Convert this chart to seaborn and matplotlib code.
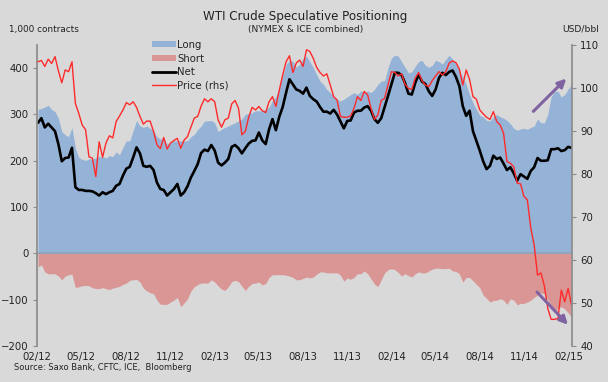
import pandas as pd
import matplotlib
matplotlib.use("Agg")
import matplotlib.pyplot as plt
import matplotlib.dates as mdates
from matplotlib.patches import Patch
from matplotlib.lines import Line2D
import seaborn as sns

# weekly CFTC report dates
dates = pd.date_range("2012-02-03", periods=158, freq="7D")

# 1,000 contracts
long_pos = [
    311, 313, 316, 320, 311, 306, 292, 263, 256, 252,
    272, 227, 207, 203, 201, 204, 204, 206, 209, 209,
    206, 211, 209, 219, 213, 229, 243, 243, 265, 287,
    275, 272, 275, 270, 265, 252, 247, 247, 236, 239,
    243, 243, 243, 243, 243, 252, 257, 268, 275, 286,
    286, 287, 282, 263, 268, 272, 275,
    279, 282, 286, 290, 300, 302, 304, 308, 308, 308,
    311, 316, 330, 338, 361, 383, 408, 416, 415, 402,
    408, 421, 426, 414, 401, 386, 372, 365, 354, 347,
    340, 333, 329, 333, 338, 343, 347, 343, 351, 347,
    351, 347, 354, 365, 372, 373, 401, 422, 428, 426,
    414, 402, 390, 392, 404, 414, 417, 406, 402, 406,
    417, 414, 409, 419, 428, 419, 409, 395, 381, 365,
    343, 325, 311, 298, 295, 287, 286, 295, 300, 295,
    292, 287, 280, 270, 266, 269, 270, 268, 272, 275,
    290, 282, 282, 300, 338, 350, 350, 338, 343, 355, 365,
]

short_pos = [
    -29, -25, -40, -44, -44, -44, -49, -57, -49, -46,
    -45, -74, -72, -70, -69, -70, -74, -76, -76, -74,
    -76, -78, -75, -73, -71, -67, -64, -58, -57, -56,
    -62, -75, -81, -85, -87, -101, -110, -110, -110, -105,
    -101, -95, -115, -107, -98, -81, -72, -67, -64, -64,
    -64, -57, -62, -70, -77, -80, -72, -61, -58, -61,
    -71, -80, -71, -65, -64, -62, -68, -65, -52, -46,
    -46, -46, -46, -47, -49, -52, -57, -57, -54, -51,
    -53, -51, -45, -40, -40, -42, -42,
    -42, -42, -47, -60, -53, -56, -52, -44, -44, -38,
    -44, -55, -66, -72, -57, -42, -35, -33, -35, -41,
    -49, -44, -48, -51, -44, -40, -42, -42, -38, -34,
    -32, -32, -33, -33, -32, -38, -39, -44, -62, -52,
    -52, -59, -67, -74, -90, -97, -105, -102, -101, -98,
    -101, -110, -98, -101, -111, -108, -108, -105, -101, -95,
    -90, -85, -88, -100, -117, -125, -119, -115, -120, -128, -138,
]

net_pos = [
    282, 292, 272, 280, 272, 264, 236, 199, 206, 207,
    228, 143, 137, 137, 135, 135, 134, 130, 125, 132,
    128, 132, 135, 146, 150, 168, 183, 187, 207, 229,
    216, 189, 187, 189, 180, 153, 139, 137, 125, 132,
    139, 150, 125, 132, 145, 164, 178, 193, 217, 224,
    221, 234, 222, 196, 190, 196, 204,
    230, 234, 227, 216, 227, 237, 243, 244, 261, 244,
    236, 268, 290, 266, 295, 316, 347, 376, 365, 354,
    351, 345, 358, 340, 333, 328, 316, 306, 306, 302,
    310, 300, 285, 270, 286, 287, 304, 308, 308, 315,
    318, 308, 290, 282, 292, 316, 340, 365, 390, 390,
    385, 368, 345, 343, 368, 386, 371, 366, 350, 340,
    354, 379, 390, 385, 392, 395, 381, 361, 318, 297,
    308, 264, 243, 222, 199, 182, 189, 211, 204, 207,
    194, 180, 186, 173, 157, 171, 166, 161, 178, 186,
    206, 200, 200, 201, 225, 225, 227, 221, 223, 230, 228,
]

# USD/bbl
price = [
    106.1, 106.4, 105.0, 106.7, 105.7, 107.3, 104.0, 101.2, 104.2, 103.8,
    106.1, 96.4, 94.1, 91.4, 90.3, 84.0, 83.7, 79.4, 87.5, 83.9,
    87.2, 88.9, 88.4, 92.2, 93.5, 94.9, 96.6, 96.1, 96.8, 95.5,
    93.4, 91.6, 92.3, 92.3, 89.9, 86.8, 85.9, 88.5, 85.8, 87.2,
    87.8, 88.3, 86.0, 87.9, 88.7, 90.9, 93.0, 93.4, 95.8, 97.5,
    96.8, 97.5, 96.8, 92.6, 90.9, 92.6, 93.0,
    96.3, 97.1, 95.3, 89.1, 89.9, 93.2, 95.5, 94.9, 95.7, 94.7,
    94.3, 96.8, 98.0, 95.7, 99.5, 103.0, 106.1, 107.5, 103.6, 105.8,
    106.5, 105.0, 108.9, 108.5, 106.9, 104.8, 103.6, 102.8, 103.3, 100.7,
    98.0, 97.2, 93.4, 93.2, 93.2, 93.5, 95.3, 98.0, 97.1, 99.2,
    98.4, 95.3, 92.7, 93.7, 97.1, 97.6, 100.7, 103.8, 103.6, 102.8,
    103.3, 100.9, 99.9, 99.7, 102.3, 103.6, 101.7, 100.7, 100.3, 101.7,
    102.8, 103.8, 103.0, 103.8, 105.8, 106.3, 105.9, 104.4, 100.7, 104.2,
    102.0, 98.0, 97.4, 94.9, 94.0, 93.2, 92.7, 94.5, 92.2, 91.4,
    89.5, 82.9, 82.5, 81.7, 77.9, 77.7, 74.8, 74.0, 67.5, 63.5,
    56.5, 57.0, 54.0, 48.8, 46.2, 46.2, 46.4, 53.0, 50.3, 53.4, 49.5,
]

left_ticks = [-200, -100, 0, 100, 200, 300, 400]
right_ticks = [40, 50, 60, 70, 80, 90, 100, 110]

df = pd.DataFrame({"date": dates, "long": long_pos, "short": short_pos,
                   "net": net_pos, "price": price})

sns.set_theme(style="white")
plt.rcParams["font.family"] = ["DejaVu Sans"]

BG = "#D9D9D9"
BLUE = "#95B3D7"
PINK = "#DA9694"
RED = "#FF2A2A"
AXC = "#8C8C8C"
TXT = "#222222"

fig = plt.figure(figsize=(6.08, 3.82), dpi=100, facecolor=BG)
ax = fig.add_axes([0.0609, 0.0942, 0.8799, 0.7880])
ax.set_facecolor(BG)

ax.fill_between(df["date"], 0, df["long"], color=BLUE, lw=0)
ax.fill_between(df["date"], df["short"], 0, color=PINK, lw=0)
ax.axhline(0, color="#8EA3B8", lw=1.2)
sns.lineplot(data=df, x="date", y="net", ax=ax, color="black", lw=1.9)

ax.set_ylim(-200, 450)
ax.set_yticks(left_ticks)
ax.set_xlim(pd.Timestamp("2012-02-01"), pd.Timestamp("2015-02-07"))
ax.xaxis.set_major_locator(mdates.MonthLocator(bymonth=[2, 5, 8, 11]))
ax.xaxis.set_major_formatter(mdates.DateFormatter("%m/%y"))
ax.set_xlabel("")
ax.set_ylabel("")
ax.tick_params(axis="x", length=0, labelsize=7.3, pad=4, colors=TXT)
ax.tick_params(axis="y", left=True, length=3, width=0.8, direction="out",
               labelsize=7.3, pad=3, colors=TXT)
ax.tick_params(axis="y", which="both", color=AXC)
for s in ["top", "right", "bottom"]:
    ax.spines[s].set_visible(False)
ax.spines["left"].set_color(AXC)

# small quarter ticks sitting on the zero line
zero_frac = (0 - (-200)) / (450 - (-200))
sec = ax.secondary_xaxis(zero_frac)
sec.xaxis.set_major_locator(mdates.MonthLocator(bymonth=[2, 5, 8, 11]))
sec.tick_params(axis="x", length=3, width=0.8, color=AXC, labelbottom=False)
sec.spines["bottom"].set_visible(False)

ax2 = ax.twinx()
sns.lineplot(data=df, x="date", y="price", ax=ax2, color=RED, lw=1.0)
ax2.set_ylim(40, 110)
ax2.set_yticks(right_ticks)
ax2.set_ylabel("")
ax2.set_xlabel("")
ax2.tick_params(axis="y", right=True, length=3, width=0.8, direction="out",
                labelsize=7.3, pad=3, colors=TXT)
ax2.tick_params(axis="y", color=AXC)
for s in ["top", "left", "bottom"]:
    ax2.spines[s].set_visible(False)
ax2.spines["right"].set_color(AXC)

handles = [
    Patch(facecolor=BLUE, edgecolor="none", label="Long"),
    Patch(facecolor=PINK, edgecolor="none", label="Short"),
    Line2D([], [], color="black", lw=2, label="Net"),
    Line2D([], [], color=RED, lw=1, label="Price (rhs)"),
]
ax2.legend(handles=handles, loc="upper left", bbox_to_anchor=(0.207, 1.03),
           frameon=False, fontsize=7.3, handlelength=2.4, handleheight=0.55,
           labelspacing=0.35, handletextpad=0.1, borderaxespad=0)

arrow = dict(arrowstyle="-|>", color="#8064A2", lw=2.2, mutation_scale=12)
ax2.annotate("", xy=(0.993, 0.895), xytext=(0.924, 0.773),
             xycoords="axes fraction", textcoords="axes fraction", arrowprops=arrow)
ax2.annotate("", xy=(0.996, 0.064), xytext=(0.931, 0.186),
             xycoords="axes fraction", textcoords="axes fraction", arrowprops=arrow)

fig.text(0.502, 0.958, "WTI Crude Speculative Positioning", ha="center",
         va="center", fontsize=8.6, color=TXT)
fig.text(0.502, 0.924, "(NYMEX & ICE combined)", ha="center", va="center",
         fontsize=6.6, color=TXT)
fig.text(0.014, 0.924, "1,000 contracts", ha="left", va="center",
         fontsize=6.4, color=TXT)
fig.text(0.985, 0.924, "USD/bbl", ha="right", va="center",
         fontsize=6.6, color=TXT)
fig.text(0.023, 0.039, "Source: Saxo Bank, CFTC, ICE,  Bloomberg", ha="left",
         va="center", fontsize=6.0, color=TXT)

fig.savefig("out.png", dpi=100, facecolor=BG)
